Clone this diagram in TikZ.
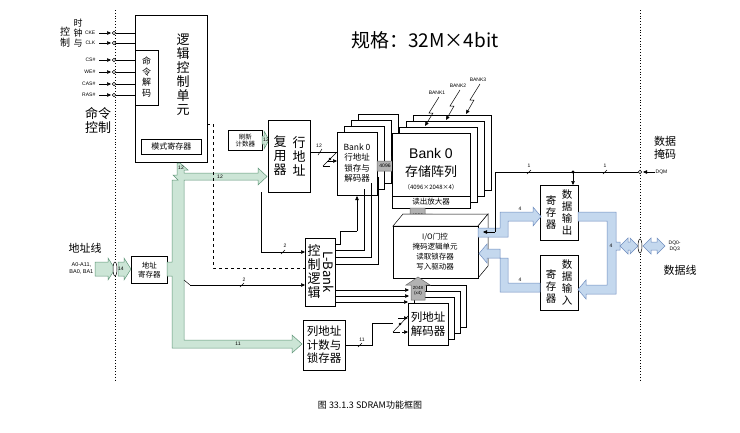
\documentclass[tikz,border=0pt]{standalone}
\usepackage{fontspec}
\setmainfont{Liberation Serif}
\newfontfamily\cjk{Noto Sans CJK SC}
\newfontfamily\sans{Liberation Sans}
\usetikzlibrary{arrows.meta}
\definecolor{gfill}{RGB}{204,229,214}
\definecolor{gline}{RGB}{95,150,120}
\definecolor{bfill}{RGB}{196,216,238}
\definecolor{bline}{RGB}{110,140,190}
\begin{document}
\begin{tikzpicture}[x=1pt,y=-1pt,
  box/.style={draw,fill=white,line width=0.6pt,inner sep=0pt,anchor=north west},
  big/.style={font=\cjk\fontsize{13}{14}\selectfont,align=center,inner sep=0pt},
  mid/.style={font=\cjk\fontsize{9}{10.5}\selectfont,align=center,inner sep=0pt},
  tiny/.style={font=\sans\fontsize{5}{6}\selectfont,align=center,inner sep=0.5pt},
  wire/.style={line width=0.5pt},
  arr/.style={wire,-{Triangle[length=4pt,width=3.5pt]}},
  grn/.style={fill=gfill,draw=gline,line width=0.5pt},
  blu/.style={fill=bfill,draw=bline,line width=0.5pt},
  gry/.style={fill=gray!60,draw=gray!80!black,line width=0.5pt},
  dot/.style={line width=0.8pt,dotted}]
\useasboundingbox (0,0) rectangle (740,432);
% dotted borders
\draw[dot] (115,10) -- (115,380);
\draw[dot] (640,10) -- (640,380);
% title
\node[font=\cjk\fontsize{19}{20}\selectfont] (title) at (425,40) {规格：32M×4bit};
% left control labels
\node[mid,font=\cjk\fontsize{10}{11}\selectfont] (kz) at (65,37) {控\\制};
\node[mid,font=\cjk\fontsize{9}{10}\selectfont] (szy) at (78,33) {时\\钟\\与};
\node[big] (mlkz) at (98,120) {命令\\控制};
\foreach \n/\y in {CKE/33,CLK/43,CS\#/60,WE\#/72,CAS\#/84,RAS\#/95}{
  \node[tiny,anchor=east] at (96,\y) {\n};
  \draw[arr] (99,\y) -- (111,\y);
  \draw[wire,fill=white] (114,\y) circle (1.8);
  \draw[wire] (116,\y) -- (135,\y);
}
% logic box
\node[box,minimum width=72,minimum height=147] (logic) at (135,15) {};
\node[box,minimum width=23,minimum height=55] (cmd) at (135,50) {};
\node[mid] at (146.5,77) {命\\令\\解\\码};
\node[big] at (183,75) {逻\\辑\\控\\制\\单\\元};
\node[box,minimum width=60,minimum height=15,font=\cjk\fontsize{8}{9}\selectfont] (mode) at (141,139) {模式寄存器};
% green bus
\draw[grn] (95,262) -- (108,262) -- (108,258) -- (115,269) -- (108,280) -- (108,276) -- (95,276) -- cycle;
\draw[grn] (118,262) -- (124,262) -- (124,258) -- (131,269) -- (124,280) -- (124,276) -- (118,276) -- cycle;
\draw[wire,fill=white] (115,269) ellipse (2 and 7);
\node[tiny] at (121,269) {14};
\node[big,font=\cjk\fontsize{11}{12}\selectfont] (dzx) at (85,248) {地址线};
\node[tiny,anchor=east,font=\sans\fontsize{5.5}{7}\selectfont] at (94,268) {A0-A11,\\BA0, BA1};
\node[box,minimum width=36,minimum height=27,font=\cjk\fontsize{7.5}{9}\selectfont,align=center] (areg) at (131,256) {地址\\寄存器};
\draw[grn] (167,262) -- (172,262) -- (172,180) -- (178,180) -- (173,175) -- (177,175) -- (177,163) -- (180,163)
  -- (188,170) -- (184,170) -- (184,173) -- (258,173) -- (258,168) -- (267,176.5) -- (258,185) -- (258,180) -- (184,180)
  -- (184,340) -- (292,340) -- (292,335) -- (302,344) -- (292,353) -- (292,348) -- (172,348) -- (172,276) -- (167,276) -- cycle;
\node[tiny] at (181,168) {12};
\node[tiny] at (220,176.5) {12};
\node[tiny] at (238,344) {11};
% refresh counter
\node[box,minimum width=34,minimum height=20,font=\cjk\fontsize{6.5}{7.5}\selectfont,align=center] (ref) at (228,130) {刷新\\计数器};
\draw[grn] (262,136) -- (264,136) -- (264,131) -- (269,140) -- (264,149) -- (264,144) -- (262,144) -- cycle;
\node[tiny] at (266,140) {12};
% mux
\node[box,minimum width=42,minimum height=72] (mux) at (268,120) {};
\node[big] at (280,156) {复\\用\\器};
\node[big] at (299,156) {行\\地\\址};
% dashed
\draw[wire,dashed] (207,124) -- (213,124) -- (213,268) -- (305,268);
% lines to L-bank
\draw[wire] (261,192) -- (261,252);
\draw[arr] (261,252) -- (305,252);
\draw[wire] (281,254) -- (285,250); \node[tiny] at (285,246) {2};
\draw[wire] (184,280) -- (190,285);
\draw[arr] (190,285) -- (305,285);
\draw[wire] (240,287) -- (244,283); \node[tiny] at (244,280) {2};
% L-bank
\node[box,minimum width=30,minimum height=68] (lbank) at (305,238) {};
\node[big] at (314,272) {控\\制\\逻\\辑};
\node[big,rotate=-90] at (329,272) {L-Bank};
% col addr counter
\node[box,minimum width=42,minimum height=50] (colc) at (303,320) {};
\node[big,font=\cjk\fontsize{11.5}{13.5}\selectfont] at (324,345) {列地址\\计数与\\锁存器};
% row decoders stack
\foreach \i in {3,2,1}{\node[box,minimum width=40,minimum height=63] at (337+7*\i,132-6*\i) {};}
\node[box,minimum width=40,minimum height=63] (rowdec) at (337,132) {};
\node[mid,font=\cjk\fontsize{8.5}{10.5}\selectfont] at (357,163) {Bank 0\\行地址\\锁存与\\解码器};
\draw[wire] (310,152) -- (322,152);
\draw[wire] (318,155) -- (322,149); \node[tiny] at (319,146) {12};
\draw[wire] (322,152) -- (337,152);
\draw[wire] (323,166) -- (336,153); \fill (330,159) circle (1.3);
\draw[wire] (323,166) -- (330,166);
\draw[arr] (327,161) -- (337,161);
% lines from L-bank up
\draw[wire] (335,244) -- (340,244) -- (340,231) -- (357,231);
\draw[arr] (357,231) -- (357,196);
\foreach \xx/\yy/\ty in {364/250/189,371/257/183,378/264/177}{
  \draw[wire] (335,\yy) -- (\xx,\yy) -- (\xx,\ty);
}
% gray 4096
\draw[gry] (377,161) -- (392,161) -- (392,157) -- (399,166) -- (392,175) -- (392,171) -- (377,171) -- cycle;
\node[tiny] at (385,166) {4096};
% arrays stack
\foreach \i in {3,2,1}{\node[box,minimum width=78,minimum height=75] at (392+7*\i,133-6*\i) {};}
\node[box,minimum width=78,minimum height=75] (arr0) at (392,133) {};
\draw[wire] (392,196) -- (470,196);
\node[mid,font=\cjk\fontsize{7.5}{8}\selectfont] at (431,202) {读出放大器};
\node[font=\sans\fontsize{14}{15}\selectfont] at (431,153) {Bank 0};
\node[big] at (431,172) {存储阵列};
\node[tiny,font=\cjk\fontsize{6}{7}\selectfont] at (431,187) {（4096×2048×4）};
\foreach \t/\x/\y/\i in {BANK1/437/93/1,BANK2/458/86/2,BANK3/478/80/3}{
  \node[tiny] at (\x,\y) {\t};
  \draw[arr] (\x+2,\y+4) -- (\x-8,\y+20) -- (\x-4,\y+20) -- (\x-12,126-6*\i+6);
}
% gray down arrow
\draw[gry] (410,208) -- (425,208) -- (425,214) -- (432,214) -- (417.5,228) -- (403,214) -- (410,214) -- cycle;
\node[tiny] at (417.5,216) {4096};
% IO box
\draw[wire,fill=white] (393,226) -- (403,214) -- (488,214) -- (478,226) -- cycle;
\draw[wire,fill=white] (478,226) -- (488,214) -- (488,266) -- (478,278) -- cycle;
\node[box,minimum width=85,minimum height=52] (io) at (393,226) {};
\node[mid,font=\cjk\fontsize{7.5}{10}\selectfont] at (435,252) {I/O门控\\掩码逻辑单元\\读取锁存器\\写入驱动器};
% col decoders
\foreach \i in {3,2,1}{\node[box,minimum width=40,minimum height=42] at (408+6*\i,303-6*\i) {};}
\node[box,minimum width=40,minimum height=42] (coldec) at (408,303) {};
\node[big,font=\cjk\fontsize{11.5}{13.5}\selectfont] at (428,324) {列地址\\解码器};
\draw[gry] (411,300) -- (411,285) -- (406,285) -- (418,277) -- (430,285) -- (425,285) -- (425,300) -- cycle;
\node[tiny,font=\sans\fontsize{4.5}{5.5}\selectfont] at (418,291) {2048\\(x4)};
\draw[arr] (335,290) -- (409,290);
\draw[arr] (335,296) -- (409,296);
\draw[arr] (335,302) -- (408,302);
\draw[wire] (345,345) -- (372,345) -- (372,323) -- (393,323);
\draw[wire] (358,347) -- (362,343); \node[tiny] at (362,340) {11};
\draw[wire] (393,332) -- (408,316); \fill (400,324) circle (1.3);
\draw[wire] (393,332) -- (400,332);
\draw[arr] (398,318) -- (408,318);
\draw[arr] (402,332) -- (408,332);
% data regs
\node[box,minimum width=38,minimum height=55] (dout) at (540,185) {};
\node[mid,font=\cjk\fontsize{10.5}{12}\selectfont] at (551,212) {寄\\存\\器};
\node[mid,font=\cjk\fontsize{10.5}{12}\selectfont] at (567,212) {数\\据\\输\\出};
\node[box,minimum width=38,minimum height=55] (din) at (540,255) {};
\node[mid,font=\cjk\fontsize{10.5}{12}\selectfont] at (551,286) {寄\\存\\器};
\node[mid,font=\cjk\fontsize{10.5}{12}\selectfont] at (567,282) {数\\据\\输\\入};
% blue bus
\draw[blu] (478,228) -- (500,228) -- (500,212) -- (533,212) -- (533,207) -- (541,216.5) -- (533,226) -- (533,221) -- (508,221) -- (508,237) -- (478,237) -- cycle;
\node[tiny] at (520,209) {4};
\draw[blu] (578,212) -- (616,212) -- (616,242) -- (620,242) -- (620,250) -- (616,250)
  -- (616,294) -- (586,294) -- (586,299) -- (578,289.5) -- (586,280) -- (586,285) -- (607,285) -- (607,221) -- (578,221) -- cycle;
\node[tiny] at (611,246) {4};
\draw[blu] (540,283) -- (508,283) -- (508,258) -- (487,258) -- (487,263) -- (479,253.5) -- (487,244) -- (487,249) -- (500,249) -- (500,292) -- (540,292) -- cycle;
\node[tiny] at (520,280) {4};
\draw[blu] (620,246) -- (628,238) -- (628,242) -- (630,242) -- (630,238) -- (638,246) -- (630,254) -- (630,250) -- (628,250) -- (628,254) -- cycle;
\draw[blu] (643,246) -- (651,238) -- (651,242) -- (657,242) -- (657,238) -- (665,246) -- (657,254) -- (657,250) -- (651,250) -- (651,254) -- cycle;
\draw[wire,fill=white] (640,246) ellipse (2 and 7);
\node[tiny,anchor=west] at (668,246) {DQ0-\\DQ3};
\node[big,font=\cjk\fontsize{11}{12}\selectfont] at (680,270) {数据线};
% DQM
\node[big,font=\cjk\fontsize{11}{13}\selectfont] at (665,148) {数据\\掩码};
\node[tiny,anchor=west] at (655,172) {DQM};
\draw[arr] (655,172) -- (643,172);
\draw[wire,fill=white] (640,172) circle (1.8);
\draw[wire] (638,172) -- (495,172) -- (495,232);
\draw[arr] (495,232) -- (483,232);
\draw[wire] (527,174) -- (531,170); \node[tiny] at (529,166) {1};
\draw[wire] (603,174) -- (607,170); \node[tiny] at (605,166) {1};
\fill (573,172) circle (1.6);
\draw[arr] (573,172) -- (573,185);
% caption
\node[font=\cjk\fontsize{9}{10}\selectfont] (cap) at (370,405) {图 33.1.3 SDRAM功能框图};
\end{tikzpicture}
\end{document}
